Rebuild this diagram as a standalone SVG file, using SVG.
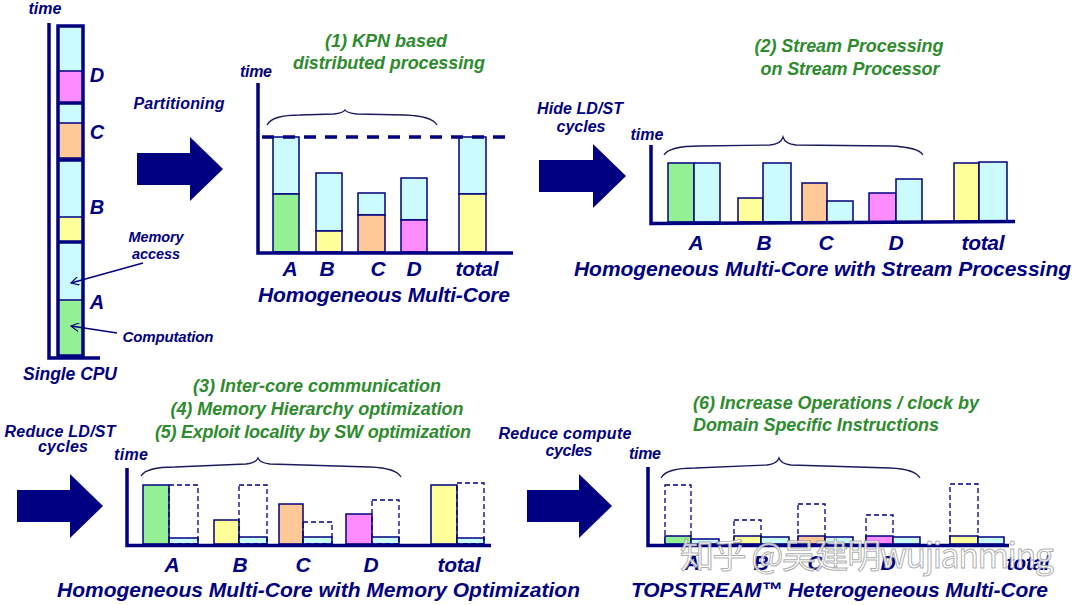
<svg xmlns="http://www.w3.org/2000/svg" width="1080" height="605" viewBox="0 0 1080 605">
<style>
.t{font-family:'Liberation Sans',Arial,sans-serif;font-weight:bold;font-style:italic;fill:#000080;text-anchor:middle}
.g{fill:#2e8b2e;font-size:18px}
.lb{font-size:21px}
.sm{font-size:16px}
.ax{stroke:#000080;stroke-width:3.5;fill:none}
.bar{stroke:#000080;stroke-width:1.5}
.cy{fill:#ccfbff}.gr{fill:#94f094}.ye{fill:#ffff99}.or{fill:#ffc896}.mg{fill:#ff8cff}
.dsh{fill:none;stroke:#000080;stroke-width:1.3;stroke-dasharray:5 3}
.br{fill:none;stroke:#1a1a5c;stroke-width:1.3}
.big{fill:#000080}
.ptr{stroke:#000080;stroke-width:1.3;fill:none}
</style>
<defs>
<marker id="open" viewBox="0 0 10 10" refX="9" refY="5" markerWidth="9" markerHeight="9" markerUnits="userSpaceOnUse" orient="auto">
<path d="M0,0 L9,5 L0,10" fill="none" stroke="#000080" stroke-width="1.3"/>
</marker>
</defs>
<rect width="1080" height="605" fill="#fff"/>

<g id="single-cpu">
<text class="t sm" x="45" y="14" textLength="33">time</text>
<path class="ax" d="M49,23 V358 H100"/>
<rect class="cy" x="58" y="26" width="25" height="45"/>
<rect class="mg" x="58" y="71" width="25" height="32"/>
<rect class="cy" x="58" y="103" width="25" height="20"/>
<rect class="or" x="58" y="123" width="25" height="36"/>
<rect class="cy" x="58" y="159" width="25" height="58"/>
<rect class="ye" x="58" y="217" width="25" height="25"/>
<rect class="cy" x="58" y="242" width="25" height="58"/>
<rect class="gr" x="58" y="300" width="25" height="56"/>
<path stroke="#000080" stroke-width="1.5" d="M58,71 H83 M58,123 H83 M58,158 H83 M58,217 H83 M58,300 H83"/>
<path stroke="#000080" stroke-width="3.5" d="M58,103 H83 M58,160 H83 M58,242 H83"/>
<rect x="58" y="26" width="25" height="330" fill="none" stroke="#000080" stroke-width="3.5"/>
<text class="t" font-size="20" x="97" y="82">D</text>
<text class="t" font-size="20" x="97" y="139">C</text>
<text class="t" font-size="20" x="97" y="214">B</text>
<text class="t" font-size="20" x="97" y="309">A</text>
<text class="t" font-size="14.5" x="156" y="242" textLength="55">Memory</text>
<text class="t" font-size="14.5" x="156" y="259" textLength="48">access</text>
<text class="t" font-size="15" x="168" y="342" textLength="91">Computation</text>
<text class="t" font-size="17.5" x="70" y="380" textLength="94">Single CPU</text>
</g>

<g id="kpn-chart">
<text class="t g" x="386" y="47" textLength="122">(1) KPN based</text>
<text class="t g" x="389" y="69" textLength="192">distributed processing</text>
<text class="t sm" x="256" y="77" textLength="32">time</text>
<path class="br" d="M267,125 Q272,115 300,115 L334,114 Q343,113 345,110 Q347,113 357,114 L405,115 Q432,116 437,125"/>
<rect class="cy bar" x="273" y="137" width="26" height="57"/>
<rect class="gr bar" x="273" y="194" width="26" height="58"/>
<rect class="cy bar" x="316" y="173" width="26" height="58"/>
<rect class="ye bar" x="316" y="231" width="26" height="21"/>
<rect class="cy bar" x="358" y="193" width="27" height="22"/>
<rect class="or bar" x="358" y="215" width="27" height="37"/>
<rect class="cy bar" x="401" y="178" width="26" height="42"/>
<rect class="mg bar" x="401" y="220" width="26" height="32"/>
<rect class="cy bar" x="459" y="137" width="27" height="57"/>
<rect class="ye bar" x="459" y="194" width="27" height="58"/>
<path class="ax" d="M258,83 V253 H513"/>
<path d="M262,137 H508" stroke="#000080" stroke-width="3.5" stroke-dasharray="12 9"/>
<text class="t lb" x="290" y="276">A</text>
<text class="t lb" x="327" y="276">B</text>
<text class="t lb" x="378" y="276">C</text>
<text class="t lb" x="414" y="276">D</text>
<text class="t lb" x="477" y="276" textLength="43">total</text>
<text class="t lb" x="384" y="302" textLength="252">Homogeneous Multi-Core</text>
</g>

<g id="stream-chart">
<text class="t g" x="849" y="52" textLength="189">(2) Stream Processing</text>
<text class="t g" x="850" y="75" textLength="179">on Stream Processor</text>
<text class="t sm" x="647" y="140" textLength="33">time</text>
<path class="br" d="M664,155 Q669,146 700,146 L770,145 Q781,144 783,137 Q785,144 796,145 L890,146 Q918,147 923,155"/>
<rect class="gr bar" x="668" y="163" width="26" height="59"/>
<rect class="cy bar" x="694" y="163" width="26" height="59"/>
<rect class="ye bar" x="738" y="198" width="25" height="24"/>
<rect class="cy bar" x="763" y="163" width="28" height="59"/>
<rect class="or bar" x="802" y="183" width="25" height="39"/>
<rect class="cy bar" x="827" y="201" width="26" height="21"/>
<rect class="mg bar" x="869" y="193" width="27" height="29"/>
<rect class="cy bar" x="896" y="179" width="26" height="43"/>
<rect class="ye bar" x="954" y="163" width="25" height="59"/>
<rect class="cy bar" x="979" y="162" width="28" height="60"/>
<path class="ax" d="M651,145 V223.5 L1015,221.5"/>
<text class="t lb" x="696" y="250">A</text>
<text class="t lb" x="764" y="250">B</text>
<text class="t lb" x="826" y="250">C</text>
<text class="t lb" x="896" y="250">D</text>
<text class="t lb" x="983" y="250" textLength="43">total</text>
<text class="t lb" x="822.5" y="276" textLength="497">Homogeneous Multi-Core with Stream Processing</text>
</g>

<g id="memory-chart">
<text class="t g" x="317" y="392" textLength="248">(3) Inter-core communication</text>
<text class="t g" x="317" y="415" textLength="293">(4) Memory Hierarchy optimization</text>
<text class="t g" x="313" y="438" textLength="316">(5) Exploit locality by SW optimization</text>
<text class="t sm" x="131" y="460" textLength="34">time</text>
<path class="br" d="M141,476 Q146,467 175,467 L246,464 Q256,463 258,458 Q260,463 270,464 L370,467 Q396,468 401,477"/>
<rect class="gr bar" x="143" y="485" width="26" height="59"/>
<rect class="cy bar" x="169" y="538" width="29" height="6"/>
<rect class="dsh" x="169" y="485" width="29" height="59"/>
<rect class="ye bar" x="214" y="520" width="25" height="24"/>
<rect class="cy bar" x="239" y="537" width="28" height="7"/>
<rect class="dsh" x="239" y="485" width="28" height="59"/>
<rect class="or bar" x="279" y="504" width="24" height="40"/>
<rect class="cy bar" x="303" y="537" width="29" height="7"/>
<rect class="dsh" x="303" y="522" width="29" height="22"/>
<rect class="mg bar" x="346" y="514" width="26" height="30"/>
<rect class="cy bar" x="372" y="537" width="27" height="7"/>
<rect class="dsh" x="372" y="500" width="27" height="44"/>
<rect class="ye bar" x="431" y="485" width="26" height="59"/>
<rect class="cy bar" x="457" y="538" width="27" height="6"/>
<rect class="dsh" x="457" y="483" width="27" height="61"/>
<path class="ax" d="M127,468 V545.5 H491"/>
<text class="t lb" x="172" y="572">A</text>
<text class="t lb" x="240" y="572">B</text>
<text class="t lb" x="303" y="572">C</text>
<text class="t lb" x="371" y="572">D</text>
<text class="t lb" x="459" y="572" textLength="43">total</text>
<text class="t lb" x="318.5" y="597" textLength="523">Homogeneous Multi-Core with Memory Optimization</text>
</g>

<g id="topstream-chart">
<text class="t g" x="693" y="409" textLength="286" style="text-anchor:start">(6) Increase Operations / clock by</text>
<text class="t g" x="693" y="431" textLength="246" style="text-anchor:start">Domain Specific Instructions</text>
<text class="t sm" x="645" y="459" textLength="32">time</text>
<path class="br" d="M661,478 Q666,468 695,468 L767,465 Q777,464 779,458 Q781,464 791,465 L890,468 Q915,469 920,478"/>
<rect class="dsh" x="665" y="485" width="26" height="59"/>
<rect class="gr bar" x="665" y="536" width="26" height="8"/>
<rect class="cy bar" x="691" y="539" width="28" height="5"/>
<rect class="dsh" x="734" y="520" width="27" height="24"/>
<rect class="ye bar" x="734" y="536" width="27" height="8"/>
<rect class="cy bar" x="761" y="537" width="28" height="7"/>
<rect class="dsh" x="798" y="504" width="27" height="40"/>
<rect class="or bar" x="798" y="536" width="27" height="8"/>
<rect class="cy bar" x="825" y="537" width="28" height="7"/>
<rect class="dsh" x="866" y="515" width="27" height="29"/>
<rect class="mg bar" x="866" y="536" width="27" height="8"/>
<rect class="cy bar" x="893" y="537" width="27" height="7"/>
<rect class="dsh" x="950" y="484" width="28" height="60"/>
<rect class="ye bar" x="950" y="536" width="28" height="8"/>
<rect class="cy bar" x="978" y="537" width="26" height="7"/>
<path class="ax" d="M648,467 V545.5 H1009"/>
<text class="t lb" x="692" y="570">A</text>
<text class="t lb" x="761" y="570">B</text>
<text class="t lb" x="815" y="570">C</text>
<text class="t lb" x="888" y="570">D</text>
<text class="t lb" x="1028" y="570" textLength="43">total</text>
<text class="t lb" x="839.5" y="597" textLength="417">TOPSTREAM™ Heterogeneous Multi-Core</text>
</g>

<g id="connectors">
<polygon class="big" points="137,153 190,153 190,137 223,169 190,201 190,185 137,185"/>
<polygon class="big" points="539,160 593,160 593,144 626,176 593,208 593,192 539,192"/>
<polygon class="big" points="17,490 70,490 70,474 103,506 70,538 70,522 17,522"/>
<polygon class="big" points="527,490 579,490 579,474 612,506 579,538 579,522 527,522"/>
<path class="ptr" d="M143,263 L71,283" marker-end="url(#open)"/>
<path class="ptr" d="M117,333 L71,326" marker-end="url(#open)"/>
</g>

<g id="arrow-labels">
<text class="t sm" x="179" y="109" textLength="91">Partitioning</text>
<text class="t sm" x="580" y="114" textLength="86">Hide LD/ST</text>
<text class="t sm" x="581" y="132" textLength="49">cycles</text>
<text class="t sm" x="60" y="437" textLength="111">Reduce LD/ST</text>
<text class="t sm" x="63" y="452" textLength="50">cycles</text>
<text class="t sm" x="565" y="439" textLength="133">Reduce compute</text>
<text class="t sm" x="569" y="456" textLength="47">cycles</text>
</g>

<g id="watermark">
<text x="680" y="568" textLength="374" font-size="34" font-family="'Noto Sans CJK SC',sans-serif" fill="#ffffff" fill-opacity="0.85" stroke="#8a8a8a" stroke-opacity="0.7" stroke-width="1">知乎 @吴建明wujianming</text>
</g>
</svg>
